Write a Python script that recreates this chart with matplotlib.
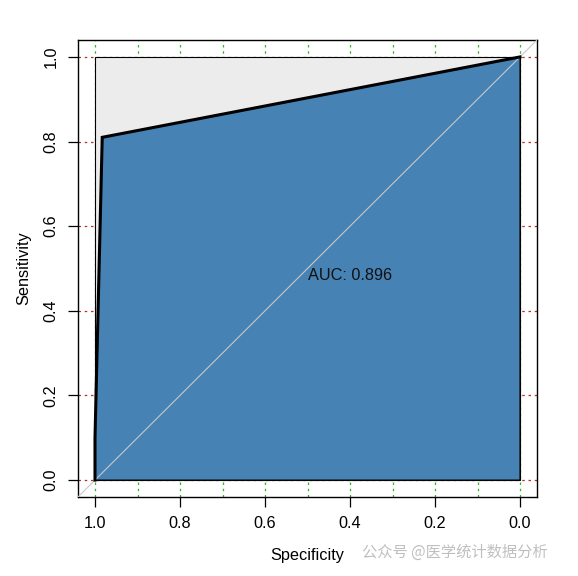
import matplotlib
matplotlib.use("Agg")
import matplotlib.pyplot as plt
import numpy as np

# ROC data (specificity, sensitivity)
specificity = [1.0, 1.0, 0.983, 0.0]
sensitivity = [0.0, 0.10, 0.81, 1.0]
auc_text = "AUC: 0.896"
x_ticks = [1.0, 0.8, 0.6, 0.4, 0.2, 0.0]
x_tick_labels = ["1.0", "0.8", "0.6", "0.4", "0.2", "0.0"]
y_ticks = [0.0, 0.2, 0.4, 0.6, 0.8, 1.0]
y_tick_labels = ["0.0", "0.2", "0.4", "0.6", "0.8", "1.0"]
v_grid = [round(0.1 * i, 1) for i in range(11)]
h_grid = y_ticks

plt.rcParams['font.family'] = ['Liberation Sans', 'DejaVu Sans']
FS = 11.7

fig = plt.figure(figsize=(5.78, 5.76), dpi=100)
ax = fig.add_axes([78/578, 1-497/576, (537-78)/578, (497-40)/576])
ax.set_xlim(1.04, -0.04)
ax.set_ylim(-0.04, 1.04)

# grid
for v in v_grid:
    ax.axvline(v, color='#2fb52f', lw=0.9, ls=(0, (2, 3)), zorder=1)
for h in h_grid:
    ax.axhline(h, color='#b52f2f', lw=0.9, ls=(0, (2, 3)), zorder=1)

# max auc polygon (grey)
ax.fill([1, 1, 0, 0], [0, 1, 1, 0], facecolor='#ececec', edgecolor='black', lw=0.8, zorder=2)
# auc polygon (steelblue)
px = list(specificity) + [0.0, 1.0]
py = list(sensitivity) + [0.0, 0.0]
ax.fill(px, py, facecolor='#4682B4', edgecolor='black', lw=0.8, zorder=3)

# identity line
ax.plot([1.04, -0.04], [-0.04, 1.04], color='#c8c8c8', lw=0.8, zorder=4)

# ROC curve
ax.plot(specificity, sensitivity, color='black', lw=2.2, zorder=5, solid_joinstyle='miter')

ax.text(0.5, 0.5, auc_text, ha='left', va='top', fontsize=FS, color='#111111', zorder=6)

ax.set_xticks(x_ticks)
ax.set_xticklabels(x_tick_labels)
ax.set_yticks(y_ticks)
ax.set_yticklabels(y_tick_labels, rotation=90, va='center')
ax.tick_params(axis='both', direction='out', length=7, width=0.9, labelsize=FS, pad=7)
for s in ax.spines.values():
    s.set_linewidth(1.0)

ax.set_xlabel("Specificity", fontsize=FS, labelpad=12)
ax.set_ylabel("Sensitivity", fontsize=FS, labelpad=9)

fig.text(362/578, 1-552/576, "公众号 @医学统计数据分析", fontsize=11, color='#b0b0b0', alpha=0.8,
         family=['Noto Sans CJK SC', 'DejaVu Sans'], ha='left', va='center')

fig.savefig("out.png", dpi=100)
